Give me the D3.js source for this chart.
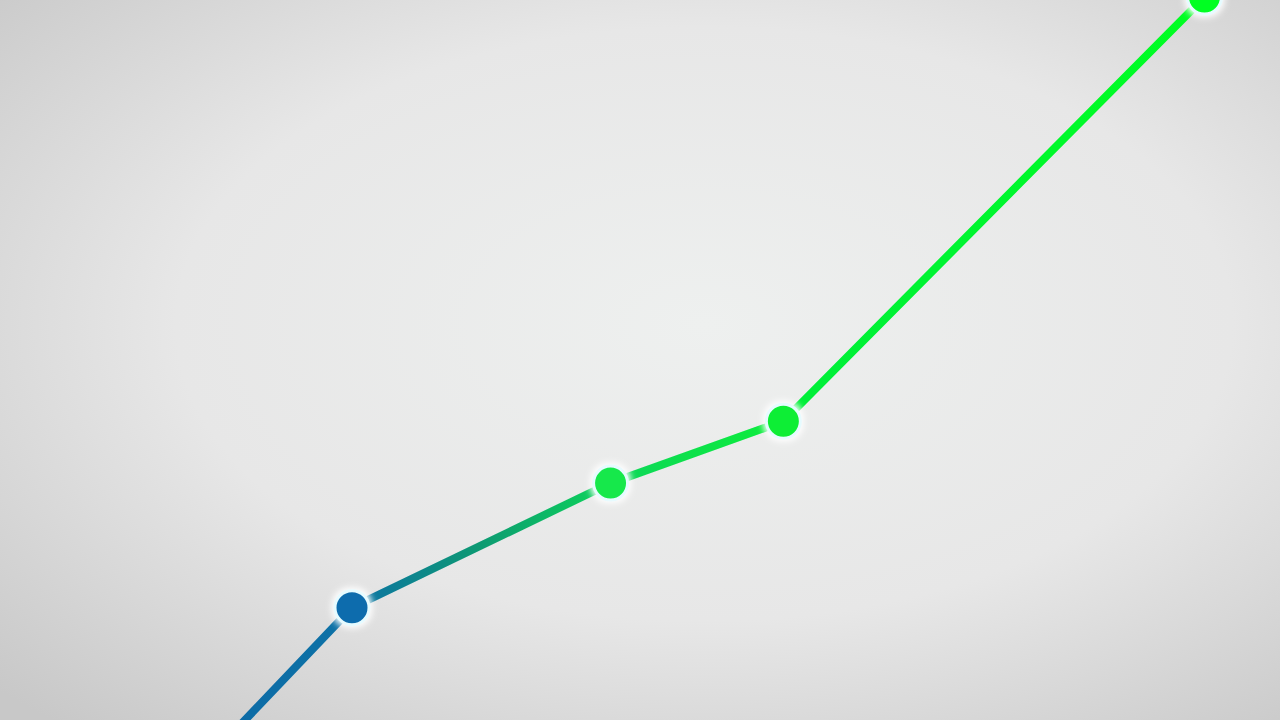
<!DOCTYPE html>
<html lang="en">
<head>
<meta charset="utf-8">
<title>Rising line</title>
<script src="https://cdn.jsdelivr.net/npm/d3@7"></script>
<style>
  html, body { margin: 0; padding: 0; overflow: hidden; }
  svg { display: block; }
</style>
</head>
<body>
<script>
// data (first and last points run off the frame)
var xValues = [1.17, 2.75, 4.77, 6.12, 9.41];
var yValues = [-1.39, 1.56, 3.29, 4.15, 10.04];
var showPoint = [false, true, true, true, true];

// colour of each dot
var pointColors = ["#1167a8", "#0e6cad", "#14e84c", "#0fee34", "#00ff22"];

var w = 1280, h = 720;

var xScale = d3.scaleLinear().domain([0, 10]).range([0, w]);
var yScale = d3.scaleLinear().domain([0, 10]).range([h, 0]);

var data = xValues.map(function(x, i) {
  return { x: x, y: yValues[i], show: showPoint[i], color: pointColors[i] };
});

var svg = d3.select("body").append("svg")
  .attr("width", w)
  .attr("height", h);

var defs = svg.append("defs");

// vignette background
var bg = defs.append("radialGradient")
  .attr("id", "bg")
  .attr("cx", "55%").attr("cy", "45%").attr("r", "75%");
bg.append("stop").attr("offset", "0%").attr("stop-color", "#eef0ef");
bg.append("stop").attr("offset", "55%").attr("stop-color", "#e7e7e7");
bg.append("stop").attr("offset", "100%").attr("stop-color", "#c8c8c8");

// line gradient following x
var gx0 = xScale(xValues[0]), gx1 = xScale(xValues[4]);
function off(v) { return (xScale(v) - gx0) / (gx1 - gx0); }
var lg = defs.append("linearGradient")
  .attr("id", "lineGrad")
  .attr("gradientUnits", "userSpaceOnUse")
  .attr("x1", gx0).attr("y1", 0)
  .attr("x2", gx1).attr("y2", 0);
lg.append("stop").attr("offset", 0).attr("stop-color", "#1166a6");
lg.append("stop").attr("offset", off(xValues[1])).attr("stop-color", "#0b72a6");
lg.append("stop").attr("offset", off(3.75)).attr("stop-color", "#0a9a72");
lg.append("stop").attr("offset", off(xValues[2])).attr("stop-color", "#0fd65a");
lg.append("stop").attr("offset", off(xValues[3])).attr("stop-color", "#06ee3a");
lg.append("stop").attr("offset", 1).attr("stop-color", "#00ff22");

// soft glow round the dots
var glow = defs.append("filter")
  .attr("id", "glow")
  .attr("x", "-60%").attr("y", "-60%").attr("width", "220%").attr("height", "220%");
glow.append("feMorphology").attr("in", "SourceAlpha").attr("operator", "dilate").attr("radius", 2).attr("result", "d");
glow.append("feGaussianBlur").attr("in", "d").attr("stdDeviation", 3).attr("result", "b");
glow.append("feFlood").attr("flood-color", "#ffffff").attr("flood-opacity", 0.95);
glow.append("feComposite").attr("in2", "b").attr("operator", "in").attr("result", "g");
var m = glow.append("feMerge");
m.append("feMergeNode").attr("in", "g");
m.append("feMergeNode").attr("in", "SourceGraphic");

var soft = defs.append("filter").attr("id", "soft");
soft.append("feGaussianBlur").attr("stdDeviation", 0.7);

svg.append("rect")
  .attr("width", w).attr("height", h)
  .attr("fill", "url(#bg)");

var line = d3.line()
  .x(function(d) { return xScale(d.x); })
  .y(function(d) { return yScale(d.y); });

svg.append("path")
  .datum(data)
  .attr("d", line)
  .attr("fill", "none")
  .attr("stroke", "url(#lineGrad)")
  .attr("stroke-width", 8)
  .attr("stroke-linejoin", "round")
  .attr("filter", "url(#soft)");

svg.selectAll("circle.dot")
  .data(data.filter(function(d) { return d.show; }))
  .enter()
  .append("circle")
  .attr("class", "dot")
  .attr("cx", function(d) { return xScale(d.x); })
  .attr("cy", function(d) { return yScale(d.y); })
  .attr("r", 17)
  .attr("fill", function(d) { return d.color; })
  .attr("stroke", "#e6fbff")
  .attr("stroke-width", 3)
  .attr("filter", "url(#glow)");
</script>
</body>
</html>
